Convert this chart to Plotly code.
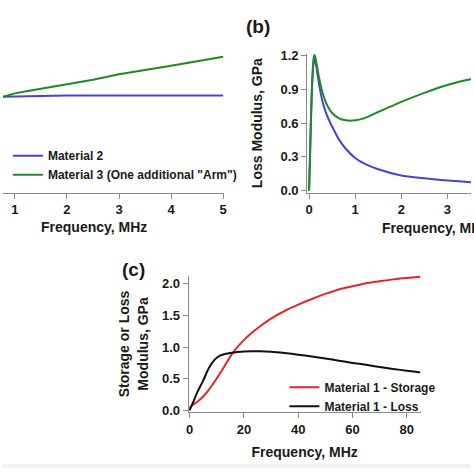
import plotly.graph_objects as go

W = H = 474

# ---------------- data ----------------
# Panel (a): storage modulus vs frequency (y axis cropped out of view)
a_freq = [0.77, 1.0, 1.25, 1.5, 2.0, 2.5, 3.0, 3.5, 4.0, 4.5, 5.0]
a_mat2 = [1.70, 1.705, 1.71, 1.72, 1.72, 1.72, 1.72, 1.72, 1.72, 1.72, 1.72]
a_mat3 = [1.70, 1.76, 1.80, 1.84, 1.91, 2.00, 2.10, 2.17, 2.25, 2.33, 2.41]

# Panel (b): loss modulus (GPa) vs frequency (MHz)
b_freq = [0, 0.02, 0.04, 0.06, 0.08, 0.1, 0.12, 0.15, 0.2, 0.25, 0.3, 0.36, 0.43,
          0.5, 0.64, 0.8, 1.0, 1.2, 1.5, 2.0, 2.5, 3.0, 3.5, 4.0, 4.5, 5.0]
b_mat2 = [0, 0.3, 0.62, 0.88, 1.05, 1.15, 1.17, 1.12, 0.99, 0.87, 0.78, 0.7, 0.63,
          0.57, 0.46, 0.37, 0.29, 0.24, 0.19, 0.135, 0.11, 0.09, 0.075, 0.066, 0.058, 0.052]
b_mat3 = [0, 0.3, 0.63, 0.9, 1.08, 1.18, 1.21, 1.16, 1.04, 0.94, 0.86, 0.79, 0.73,
          0.69, 0.645, 0.625, 0.625, 0.645, 0.7, 0.79, 0.87, 0.94, 0.99, 1.03, 1.07, 1.1]

# Panel (c): storage / loss modulus (GPa) vs frequency (MHz)
c_freq = [0, 1, 2, 3, 5, 7, 9, 11, 13, 15, 17, 20, 23, 26, 30, 35, 40, 45, 50,
          55, 60, 65, 70, 75, 80, 85]
c_storage = [0.04, 0.08, 0.11, 0.14, 0.22, 0.32, 0.44, 0.57, 0.71, 0.85, 0.97, 1.11,
             1.23, 1.33, 1.45, 1.57, 1.67, 1.76, 1.84, 1.91, 1.96, 2.01, 2.04, 2.07, 2.09, 2.11]
c_loss = [0, 0.1, 0.2, 0.3, 0.47, 0.66, 0.79, 0.86, 0.89, 0.905, 0.92, 0.93, 0.935,
          0.935, 0.925, 0.905, 0.88, 0.85, 0.82, 0.785, 0.75, 0.72, 0.685, 0.655, 0.625, 0.6]

BLUE = "#4343dc"
GREEN = "#1c8c22"
RED = "#e3262b"
BLACK = "#111111"
AXC = "#8a8a8a"
TXT = "#1a1a1a"
FONT = "Liberation Sans"


def px(v):
    return v / W


def py(v):
    return 1 - v / H


fig = go.Figure()

# panel (a)
fig.add_trace(go.Scatter(x=a_freq, y=a_mat2, mode="lines", name="Material 2",
                         line=dict(color=BLUE, width=2), xaxis="x", yaxis="y", legend="legend"))
fig.add_trace(go.Scatter(x=a_freq, y=a_mat3, mode="lines", name='Material 3 (One additional "Arm")',
                         line=dict(color=GREEN, width=2), xaxis="x", yaxis="y", legend="legend"))
# panel (b)
fig.add_trace(go.Scatter(x=b_freq, y=b_mat2, mode="lines", name="Material 2", showlegend=False,
                         line=dict(color=BLUE, width=2, shape="spline", smoothing=0.6),
                         xaxis="x2", yaxis="y2"))
fig.add_trace(go.Scatter(x=b_freq, y=b_mat3, mode="lines", name='Material 3 (One additional "Arm")',
                         showlegend=False,
                         line=dict(color=GREEN, width=2, shape="spline", smoothing=0.6),
                         xaxis="x2", yaxis="y2"))
# panel (c)
fig.add_trace(go.Scatter(x=c_freq, y=c_storage, mode="lines", name="Material 1 - Storage",
                         line=dict(color=RED, width=2, shape="spline", smoothing=0.6),
                         xaxis="x3", yaxis="y3", legend="legend2"))
fig.add_trace(go.Scatter(x=c_freq, y=c_loss, mode="lines", name="Material 1 - Loss",
                         line=dict(color=BLACK, width=2, shape="spline", smoothing=0.6),
                         xaxis="x3", yaxis="y3", legend="legend2"))

tickfont = dict(family=FONT, size=13, color=TXT, weight="bold")
titlefont = dict(family=FONT, size=14, color=TXT, weight="bold")
axbase = dict(showline=True, linecolor=AXC, linewidth=1, ticks="outside", ticklen=5,
              tickcolor=AXC, tickwidth=1, showgrid=False, zeroline=False, tickfont=tickfont)

fig.update_layout(
    width=W, height=H, autosize=False,
    margin=dict(l=0, r=0, t=0, b=0),
    paper_bgcolor="white", plot_bgcolor="white",
    font=dict(family=FONT, color=TXT),
    # panel (a)
    xaxis=dict(**axbase, domain=[0, px(224)], range=[0.7725, 5.019], anchor="y",
               tickvals=[1, 2, 3, 4, 5]),
    yaxis=dict(domain=[py(192), py(42)], range=[0, 2.6], anchor="x", visible=False),
    # panel (b)
    xaxis2=dict(**axbase, domain=[px(308), 1.0], range=[-0.0428, 3.512], anchor="y2",
                tickvals=[0, 1, 2, 3, 4]),
    yaxis2=dict(**axbase, domain=[py(192), py(50)], range=[-0.0174, 1.217], anchor="x2",
                tickvals=[0, 0.3, 0.6, 0.9, 1.2], tickformat=".1f",
                title=dict(text="Loss Modulus, GPa", font=titlefont, standoff=14)),
    # panel (c)
    xaxis3=dict(**axbase, domain=[px(188), px(423)], range=[-0.36, 85.1], anchor="y3",
                tickvals=[0, 20, 40, 60, 80],
                title=dict(text="Frequency, MHz", font=titlefont, standoff=11)),
    yaxis3=dict(**axbase, domain=[py(417), py(277)], range=[-0.031, 2.13], anchor="x3",
                tickvals=[0, 0.5, 1.0, 1.5, 2.0], tickformat=".1f",
                title=dict(text="Storage or Loss<br>Modulus, GPa", font=titlefont, standoff=10)),
    legend=dict(x=px(5), y=py(164), xanchor="left", yanchor="middle",
                bgcolor="rgba(0,0,0,0)", itemwidth=30,
                font=dict(family=FONT, size=12, color=TXT, weight="bold")),
    legend2=dict(x=px(285), y=py(401), xanchor="left", yanchor="middle",
                 bgcolor="rgba(0,0,0,0)", itemwidth=30,
                 font=dict(family=FONT, size=12, color=TXT, weight="bold")),
    annotations=[
        dict(text="Frequency, MHz", x=px(92), y=py(227), xref="paper", yref="paper",
             showarrow=False, font=titlefont, xanchor="center", yanchor="middle"),
        dict(text="Frequency, MHz", x=px(438), y=py(228), xref="paper", yref="paper",
             showarrow=False, font=titlefont, xanchor="center", yanchor="middle"),
        dict(text="(b)", x=px(258), y=py(22), xref="paper", yref="paper",
             showarrow=False, font=dict(family=FONT, size=19, color=TXT, weight="bold"),
             xanchor="center", yanchor="middle"),
        dict(text="(c)", x=px(132), y=py(271), xref="paper", yref="paper",
             showarrow=False, font=dict(family=FONT, size=19, color=TXT, weight="bold"),
             xanchor="center", yanchor="middle"),
    ],
    shapes=[dict(type="rect", xref="paper", yref="paper", x0=0, x1=1, y0=0, y1=py(470),
                 fillcolor="#f2f2f2", line=dict(width=0), layer="below")],
)

fig.write_html("out.html")
